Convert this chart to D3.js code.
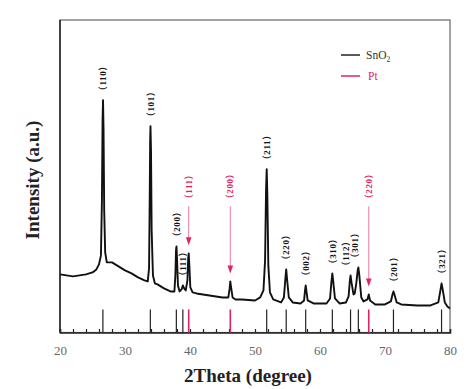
<!DOCTYPE html>
<html>
<head>
<meta charset="utf-8">
<script src="https://cdn.jsdelivr.net/npm/d3@7"></script>
<style>
  body { margin: 0; background: #fff; }
  svg { display: block; }
</style>
</head>
<body>
<svg id="chart"></svg>
<script>
// measured pattern, intensity in a.u.
const twoTheta = [20.0, 21.0, 22.0, 23.0, 24.0, 25.0, 25.6, 26.0, 26.3, 26.45, 26.55, 26.62, 26.7, 26.8, 26.95, 27.2, 27.6, 28.0, 29.0, 30.0,
  31.0, 32.0, 33.0, 33.5, 33.7, 33.8, 33.87, 33.92, 34.0, 34.1, 34.3, 34.6, 35.0, 36.0, 37.0, 37.6, 37.75, 37.85, 37.92, 38.0,
  38.15, 38.4, 38.7, 38.9, 39.1, 39.35, 39.6, 39.72, 39.8, 39.9, 40.05, 40.4, 41.0, 43.0, 45.0, 45.9, 46.1, 46.2, 46.3, 46.55,
  47.0, 48.0, 50.0, 50.8, 51.3, 51.55, 51.7, 51.8, 51.9, 52.05, 52.3, 52.8, 54.0, 54.45, 54.65, 54.8, 54.95, 55.2, 55.8, 57.0,
  57.55, 57.7, 57.8, 57.9, 58.1, 59.0, 61.0, 61.55, 61.75, 61.9, 62.05, 62.3, 63.0, 64.0, 64.4, 64.6, 64.7, 64.85, 65.15, 65.35,
  65.6, 65.8, 65.9, 66.05, 66.35, 66.7, 67.3, 67.5, 67.7, 68.5, 70.0, 70.9, 71.15, 71.3, 71.5, 71.8, 72.5, 75.0, 77.0, 78.2,
  78.5, 78.7, 78.9, 79.2, 79.6, 80.0];
const intensity = [58, 57, 56, 57, 58, 60, 63, 68, 77, 132, 212, 232, 202, 122, 80, 70, 70, 70, 66, 62,
  59, 55, 52, 51, 64, 132, 192, 206, 182, 102, 57, 49, 48, 44, 41, 41, 57, 82, 86, 74,
  47, 41, 43, 47, 44, 42, 52, 74, 79, 67, 45, 40, 39, 37, 35, 35, 44, 51, 46, 35,
  33, 33, 32, 35, 42, 72, 142, 163, 137, 67, 40, 33, 30, 35, 52, 63, 52, 35, 30, 29,
  32, 42, 47, 42, 32, 29, 29, 34, 50, 59, 50, 34, 29, 30, 36, 52, 57, 50, 38, 39,
  50, 62, 65, 57, 35, 31, 33, 38, 32, 28, 28, 31, 38, 41, 37, 30, 28, 27, 27, 30,
  41, 49, 42, 30, 26, 24];

// reference card lines
const sno2Lines = [26.6, 33.9, 37.9, 38.9, 51.8, 54.8, 57.8, 61.9, 64.7, 65.9, 71.3, 78.7];
const ptLines = [39.8, 46.2, 67.5];
const stickHeight = 23;

// peak indexing
const sno2Hkl = ["110", "101", "200", "111", "211", "220", "002", "310", "112", "301", "201", "321"];
const ptHkl = ["111", "200", "220"];

const xTicks = [20, 30, 40, 50, 60, 70, 80];

const width = 474, height = 389;
const margin = { top: 20, right: 24, bottom: 56.5, left: 60 };
const red = "#e0245e";

const svg = d3.select("#chart")
    .attr("width", width)
    .attr("height", height);

const x = d3.scaleLinear().domain([20, 80]).range([margin.left, width - margin.right]);
const y = d3.scaleLinear().domain([0, 312]).range([height - margin.bottom, margin.top]);

// frame
svg.append("rect")
    .attr("x", x(20)).attr("y", y(312))
    .attr("width", x(80) - x(20)).attr("height", y(0) - y(312))
    .attr("fill", "none")
    .attr("stroke", "#666")
    .attr("stroke-width", 1.2);

svg.append("line")
    .attr("x1", x(20)).attr("x2", x(20))
    .attr("y1", y(312)).attr("y2", y(0))
    .attr("stroke", "#222").attr("stroke-width", 1.5);

// x axis, ticks pointing inward
const xAxis = svg.append("g")
    .attr("transform", `translate(0,${y(0)})`)
    .call(d3.axisBottom(x).tickValues(d3.range(20, 81, 2)).tickSize(-3.5).tickFormat(""));
xAxis.select(".domain").attr("stroke", "#222").attr("stroke-width", 1.5);
xAxis.selectAll(".tick line").attr("stroke", "#222").attr("stroke-width", 1.2);

const xLabels = svg.append("g")
    .attr("transform", `translate(0,${y(0)})`)
    .call(d3.axisBottom(x).tickValues(xTicks).tickSize(0).tickPadding(13).tickFormat(d3.format("d")));
xLabels.select(".domain").remove();
xLabels.selectAll("text")
    .attr("font-family", "Liberation Serif, serif")
    .attr("font-size", 13)
    .attr("fill", "#666");

// reference sticks
svg.append("g")
    .selectAll("line")
    .data(sno2Lines)
    .enter().append("line")
    .attr("x1", d => x(d)).attr("x2", d => x(d))
    .attr("y1", y(0)).attr("y2", y(stickHeight))
    .attr("stroke", "#222")
    .attr("stroke-width", 1.2);

svg.append("g")
    .selectAll("line")
    .data(ptLines)
    .enter().append("line")
    .attr("x1", d => x(d)).attr("x2", d => x(d))
    .attr("y1", y(0)).attr("y2", y(stickHeight))
    .attr("stroke", red)
    .attr("stroke-width", 1.6);

// pattern
const pattern = twoTheta.map((t, i) => [t, intensity[i]]);
const line = d3.line()
    .x(d => x(d[0]))
    .y(d => y(d[1]));

svg.append("path")
    .datum(pattern)
    .attr("d", line)
    .attr("fill", "none")
    .attr("stroke", "#111")
    .attr("stroke-width", 1.9)
    .attr("stroke-linejoin", "round");

function peakTop(pos) {
    return d3.max(pattern.filter(d => Math.abs(d[0] - pos) <= 0.15), d => d[1]);
}

// SnO2 labels
const nudge = { "200": 0.6, "112": -5, "301": -4 };
const labelFont = "Liberation Serif, Noto Sans CJK SC, serif";

svg.append("g")
    .selectAll("text")
    .data(sno2Lines)
    .enter().append("text")
    .attr("transform", (d, i) => {
        const lx = x(d) + (nudge[sno2Hkl[i]] || 0);
        const ly = y(peakTop(d)) - 5;
        return `translate(${lx},${ly}) rotate(-90)`;
    })
    .attr("dy", "0.35em")
    .attr("font-family", labelFont)
    .attr("font-weight", "bold")
    .attr("font-size", 9)
    .attr("letter-spacing", 0.6)
    .attr("fill", "#111")
    .text((d, i) => `（${sno2Hkl[i]}）`);

// Pt labels and arrows
const ptLabelY = y(129);

svg.append("g")
    .selectAll("text")
    .data(ptLines)
    .enter().append("text")
    .attr("transform", d => `translate(${x(d)},${ptLabelY}) rotate(-90)`)
    .attr("dy", "0.35em")
    .attr("font-family", labelFont)
    .attr("font-weight", "bold")
    .attr("font-size", 9)
    .attr("letter-spacing", 0.6)
    .attr("fill", red)
    .text((d, i) => `（${ptHkl[i]}）`);

const arrows = svg.append("g")
    .selectAll("g")
    .data(ptLines)
    .enter().append("g")
    .attr("transform", d => `translate(${x(d)},0)`);

arrows.append("line")
    .attr("x1", 0).attr("x2", 0)
    .attr("y1", ptLabelY + 3)
    .attr("y2", d => y(peakTop(d)) - 12)
    .attr("stroke", "#ec7aa0")
    .attr("stroke-width", 1);

arrows.append("path")
    .attr("d", d => {
        const tip = y(peakTop(d)) - 8;
        return `M0,${tip}L-2.8,${tip - 8}L2.8,${tip - 8}Z`;
    })
    .attr("fill", red);

// legend
const legend = svg.append("g").attr("transform", "translate(341,55)");
legend.append("line").attr("x1", 0).attr("x2", 19).attr("y1", 0).attr("y2", 0)
    .attr("stroke", "#222").attr("stroke-width", 1.5);
const snText = legend.append("text").attr("x", 25).attr("y", 4)
    .attr("font-family", labelFont).attr("font-size", 11.5).attr("fill", "#333");
snText.append("tspan").text("SnO");
snText.append("tspan").attr("font-size", 7.5).attr("dy", 3).text("2");

legend.append("line").attr("x1", 0).attr("x2", 19).attr("y1", 21).attr("y2", 21)
    .attr("stroke", red).attr("stroke-width", 1.5);
legend.append("text").attr("x", 27).attr("y", 25)
    .attr("font-family", labelFont).attr("font-size", 11.5).attr("fill", red)
    .text("Pt");

// axis titles
svg.append("text")
    .attr("x", 248).attr("y", 382)
    .attr("text-anchor", "middle")
    .attr("font-family", labelFont)
    .attr("font-weight", "bold")
    .attr("font-size", 19)
    .attr("fill", "#222")
    .text("2Theta (degree)");

svg.append("text")
    .attr("transform", "translate(39,180) rotate(-90)")
    .attr("text-anchor", "middle")
    .attr("font-family", labelFont)
    .attr("font-weight", "bold")
    .attr("font-size", 19)
    .attr("fill", "#222")
    .text("Intensity (a.u.)");
</script>
</body>
</html>
